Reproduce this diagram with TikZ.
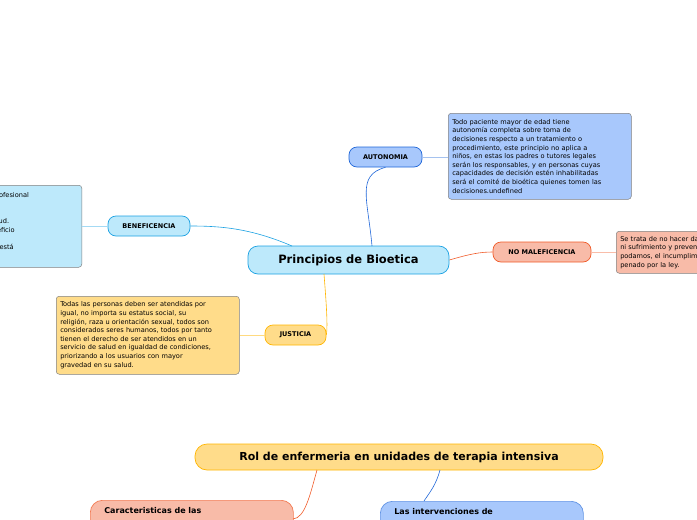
\documentclass[tikz,border=0pt]{standalone}
\usepackage{fontspec}
\setmainfont{DejaVu Sans}
\begin{document}
\begin{tikzpicture}[x=1pt,y=-1pt,
 box/.style={rounded corners=6pt,line width=0.7pt,inner sep=0pt,align=center,font=\fontsize{6.5pt}{7pt}\selectfont\bfseries},
 note/.style={rounded corners=3pt,draw=black!50,line width=0.5pt,inner xsep=4pt,inner ysep=3pt,align=left,anchor=north west,text width=175pt,font=\fontsize{6.6pt}{8.6pt}\selectfont},
 big/.style={rounded corners=12pt,line width=0.7pt,anchor=north west,align=left,text width=175pt,inner ysep=7pt,inner xsep=14pt,text depth=30pt,font=\fontsize{8pt}{9pt}\selectfont\bfseries},
 link/.style={line width=0.6pt}]
\useasboundingbox (0,0) rectangle (697,520);
\clip (0,0) rectangle (697,520);
\definecolor{cyanf}{HTML}{BDE9FB}\definecolor{cyanb}{HTML}{1BA1E2}
\definecolor{bluef}{HTML}{A8C8FC}\definecolor{blueb}{HTML}{1F66D8}
\definecolor{redf}{HTML}{F8BBA8}\definecolor{redb}{HTML}{F05A28}
\definecolor{yelf}{HTML}{FFDC8A}\definecolor{yelb}{HTML}{FFB500}

\node[box,fill=cyanf,draw=cyanb,rounded corners=10pt,minimum width=201pt,minimum height=28pt,font=\fontsize{11.5pt}{12pt}\selectfont\bfseries] (main) at (348.5,260) {Principios de Bioetica};
\node[box,fill=bluef,draw=blueb,rounded corners=8pt,minimum width=73pt,minimum height=20pt] (aut) at (385.5,157) {AUTONOMIA};
\node[box,fill=cyanf,draw=cyanb,rounded corners=8pt,minimum width=82pt,minimum height=20pt] (ben) at (149,226) {BENEFICENCIA};
\node[box,fill=redf,draw=redb,rounded corners=8pt,minimum width=98pt,minimum height=20pt] (nom) at (542,252) {NO MALEFICENCIA};
\node[box,fill=yelf,draw=yelb,rounded corners=8pt,minimum width=61pt,minimum height=20pt] (jus) at (295.5,335) {JUSTICIA};

\node[note,fill=bluef,minimum height=86pt] (autn) at (448,113) {Todo paciente mayor de edad tiene\\autonomía completa sobre toma de\\decisiones respecto a un tratamiento o\\procedimiento, este principio no aplica a\\niños, en estas los padres o tutores legales\\serán los responsables, y en personas cuyas\\capacidades de decisión estén inhabilitadas\\será el comité de bioética quienes tomen las\\decisiones.undefined};
\node[note,fill=cyanf,anchor=north east,minimum height=82pt] (benn) at (82,185) {El personal de salud como profesional\\debe actuar en beneficio del\\paciente, y tratar la\\enfermedad, promover la salud.\\No obligado a actuar en beneficio\\de otros, principio de ámbito\\privado, su cumplimiento no está\\penado por la ley.};
\node[note,fill=redf,minimum height=42pt] (nomn) at (616,231) {Se trata de no hacer daño,\\ni sufrimiento y prevenirlo si\\podamos, el incumplimiento es\\penado por la ley.};
\node[note,fill=yelf,minimum height=78pt] (jusn) at (56,296) {Todas las personas deben ser atendidas por\\igual, no importa su estatus social, su\\religión, raza u orientación sexual, todos son\\considerados seres humanos, todos por tanto\\tienen el derecho de ser atendidos en un\\servicio de salud en igualdad de condiciones,\\priorizando a los usuarios con mayor\\gravedad en su salud.};

\node[box,fill=yelf,draw=yelb,rounded corners=12pt,minimum width=408pt,minimum height=26pt,font=\fontsize{11pt}{12pt}\selectfont\bfseries] (rol) at (399,457) {Rol de enfermeria en unidades de terapia intensiva};
\node[big,fill=redf,draw=redb!80] (car) at (90,500) {Caracteristicas de las};
\node[big,fill=bluef,draw=blueb!70] (int) at (380,501) {Las intervenciones de};

\coordinate (m1) at (372,246);\coordinate (m2) at (292,246);
\coordinate (m3) at (324,274);
\draw[link,blueb] (m1) .. controls (368,200) and (356,175) .. (aut.south);
\draw[link,cyanb] (m2) .. controls (250,228) and (220,226) .. (ben.east);
\draw[link,redb] (main.east) .. controls (470,254) and (480,252) .. (nom.west);
\draw[link,yelb] (m3) .. controls (326,300) and (328,325) .. (jus.east);
\draw[line width=0.4pt,blueb!40] (aut.east) -- (autn.west|-aut.east);
\draw[line width=0.4pt,cyanb!40] (ben.west) -- (benn.east|-ben.west);
\draw[line width=0.4pt,redb!40] (nom.east) -- (nomn.west|-nom.east);
\draw[line width=0.4pt,yelb!50] (jus.west) -- (jusn.east|-jus.west);
\coordinate (r1) at (317,470);\coordinate (r2) at (440,470);
\coordinate (c1) at (293,519);\coordinate (i1) at (424,501);
\draw[link,redb] (r1) .. controls (310,495) and (305,518) .. (c1);
\draw[link,blueb] (r2) .. controls (436,485) and (430,492) .. (i1);
\end{tikzpicture}
\end{document}
